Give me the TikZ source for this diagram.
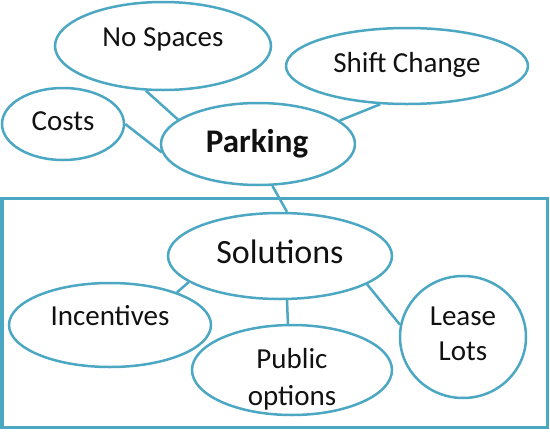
\documentclass[tikz,border=0pt]{standalone}
\usepackage{fontspec}
\setmainfont{Carlito}
\usetikzlibrary{shapes.geometric}
\definecolor{rim}{HTML}{4BA7C2}
\definecolor{ink}{HTML}{111111}

\begin{document}
\begin{tikzpicture}[x=1pt,y=-1pt,text=ink,
 font=\fontsize{29}{36}\selectfont,
 bubble/.style={ellipse,draw=rim,line width=2.5pt,inner sep=0pt},
 word/.style={anchor=base,align=center},
 link/.style={draw=rim,line width=2.5pt}]
\path[use as bounding box] (0,0) rectangle (550,432);
\draw[rim,line width=3pt] (2,198) rectangle (547,427);
\node[bubble,minimum width=216pt,minimum height=88pt] (nospaces) at (163,46) {};
\node[bubble,minimum width=242pt,minimum height=76pt] (shift) at (407,66) {};
\node[bubble,minimum width=122pt,minimum height=72pt] (costs) at (63,124) {};
\node[bubble,minimum width=194pt,minimum height=82pt] (parking) at (258,144) {};
\node[bubble,minimum width=224pt,minimum height=86pt] (solutions) at (280,256) {};
\node[bubble,minimum width=202pt,minimum height=84pt] (incentives) at (110,325) {};
\node[bubble,minimum width=200pt,minimum height=90pt] (public) at (292,370) {};
\node[bubble,minimum width=126pt,minimum height=122pt] (lease) at (463,337) {};
\node[word] (nospacesT) at (163,46) {No Spaces};
\node[word] (shiftT) at (407,72) {Shift Change};
\node[word] (costsT) at (63,130) {Costs};
\node[word,font=\bfseries\fontsize{33}{40}\selectfont] (parkingT) at (257,152) {Parking};
\node[word,font=\fontsize{34}{40}\selectfont] (solutionsT) at (280,263) {Solutions};
\node[word] (incentivesT) at (110,325) {Incentives};
\node[word,font=\fontsize{29}{37}\selectfont] (publicT) at (292,405) {Public\\options};
\node[word,font=\fontsize{29}{35}\selectfont] (leaseT) at (463,360) {Lease\\Lots};
\draw[link] (nospaces.-111) -- (parking.163);
\draw[link] (costs.east) -- (parking.185);
\draw[link] (shift.-125) -- (parking.16);
\draw[link] (parking.-71) -- (solutions.81);
\draw[link] (solutions.-164) -- (incentives.26);
\draw[link] (solutions.-81) -- (public.95);
\draw[link] (solutions.-18) -- (lease.169);
\end{tikzpicture}
\end{document}
